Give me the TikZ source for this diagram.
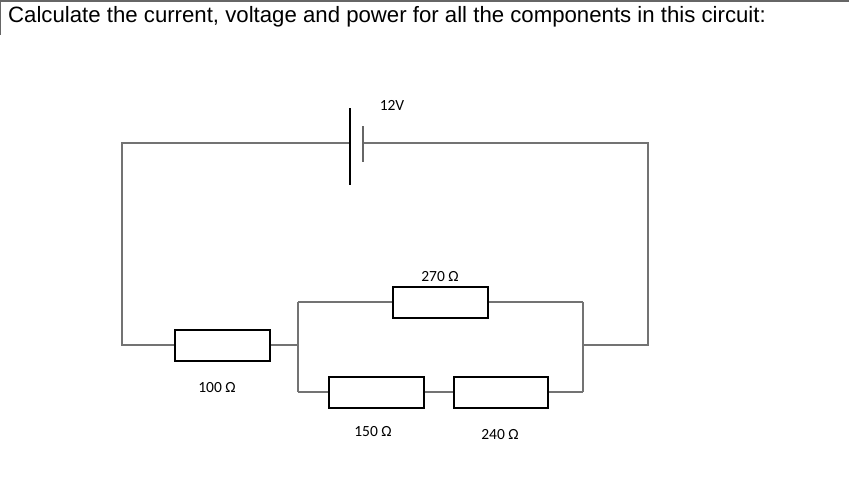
\documentclass[tikz,border=0pt]{standalone}
\usepackage{fontspec}
\setmainfont{Carlito}
\newfontfamily\titlefont{Liberation Sans}
\begin{document}
\begin{tikzpicture}[x=1pt,y=-1pt,
  wire/.style={draw=black!55,line width=1.2pt},
  res/.style={draw=black,line width=2pt,fill=white},
  lbl/.style={font=\fontsize{15.5}{18}\selectfont,inner sep=0pt}]
\useasboundingbox (0,0) rectangle (849,501);
\draw[black!60,line width=1.4pt] (0,35) -- (0,1) -- (849,1);
\node[anchor=west,inner sep=0pt,font=\titlefont\fontsize{22.2}{25}\selectfont] (title) at (8,17) {Calculate the current, voltage and power for all the components in this circuit:};
% battery
\coordinate (bl) at (350,143); \coordinate (bs) at (363,143);
\draw[wire] (bl) -- (122,143) -- (122,345) -- (175,345);
\draw[wire] (bs) -- (648,143) -- (648,345) -- (583,345);
\draw[black,line width=1.4pt] (350,108) -- (350,185);
\draw[black!60,line width=2pt] (363,126) -- (363,162);
\node[lbl] (v) at (392,105) {12V};
% wires
\draw[wire] (270,345) -- (298,345);
\draw[wire] (298,302) -- (298,392);
\draw[wire] (583,302) -- (583,392);
\draw[wire] (298,302) -- (583,302);
\draw[wire] (298,392) -- (583,392);
% resistors
\node[res,minimum width=95pt,minimum height=31pt,inner sep=0pt] (r100) at (222.5,345.5) {};
\node[res,minimum width=95pt,minimum height=31pt,inner sep=0pt] (r270) at (440.5,302.5) {};
\node[res,minimum width=95pt,minimum height=31pt,inner sep=0pt] (r150) at (376.5,392.5) {};
\node[res,minimum width=94pt,minimum height=31pt,inner sep=0pt] (r240) at (501,392.5) {};
\node[lbl] (l270) at (440,277) {270 Ω};
\node[lbl] (l100) at (217,388) {100 Ω};
\node[lbl] (l150) at (373,432) {150 Ω};
\node[lbl] (l240) at (500,435) {240 Ω};
\end{tikzpicture}
\end{document}
